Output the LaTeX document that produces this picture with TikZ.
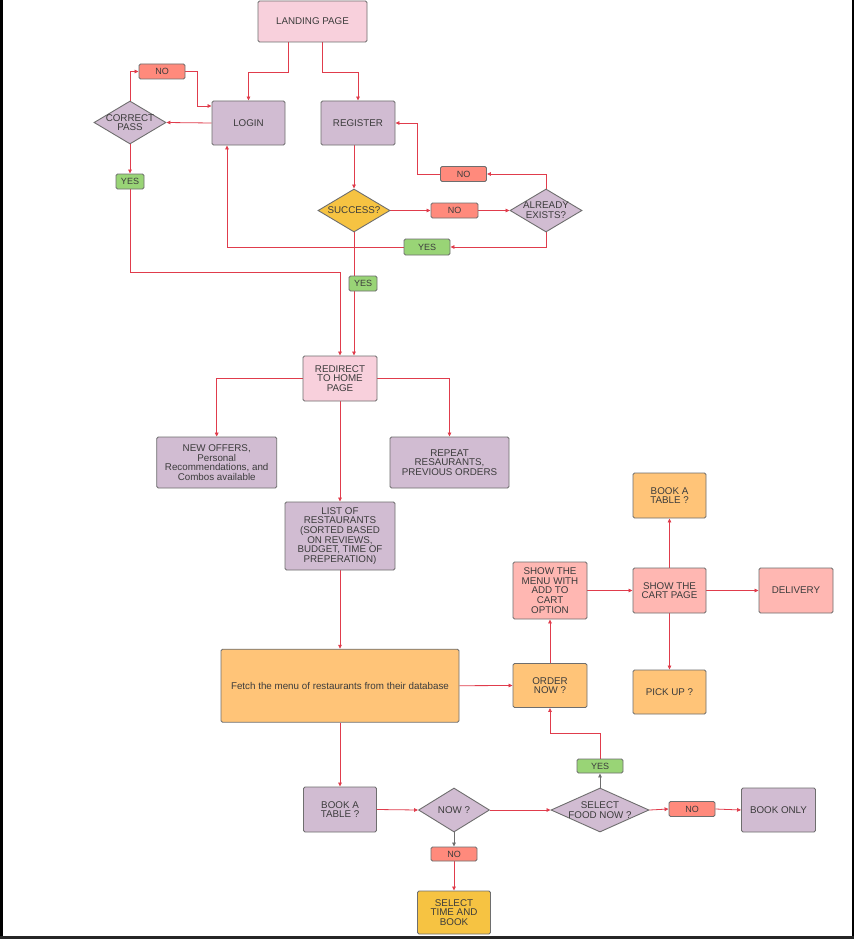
\documentclass[tikz,border=0pt]{standalone}
\usepackage{fontspec}
\setmainfont{Liberation Sans}
\usetikzlibrary{shapes.geometric,arrows.meta}
\pgfdeclarelayer{background}
\pgfsetlayers{background,main}
\definecolor{pinkl}{RGB}{248,208,220}
\definecolor{purp}{RGB}{209,188,210}
\definecolor{salm}{RGB}{255,138,124}
\definecolor{grn}{RGB}{153,212,118}
\definecolor{yell}{RGB}{246,195,66}
\definecolor{orng}{RGB}{255,196,120}
\definecolor{salml}{RGB}{255,183,178}
\definecolor{bord}{RGB}{110,110,110}
\definecolor{linered}{RGB}{224,60,76}
\definecolor{txt}{RGB}{60,60,60}
\begin{document}
\begin{tikzpicture}[x=1pt,y=-1pt,
  box/.style={draw=bord, line width=0.9pt, rounded corners=1.5pt, inner sep=0pt, align=center,
    font=\fontsize{9.8}{9.7}\selectfont, text=txt},
  tag/.style={box, font=\fontsize{9}{9}\selectfont},
  diam/.style={diamond, draw=bord, line width=0.9pt, inner sep=0pt},
  lbl/.style={inner sep=0pt, align=center, font=\fontsize{9.8}{9.7}\selectfont, text=txt},
  arr/.style={draw=linered, line width=0.8pt, -{Triangle[length=4pt,width=3.6pt]}},
  garr/.style={draw=bord, line width=0.8pt, -{Triangle[length=4pt,width=3.6pt]}}]
\useasboundingbox (0,0) rectangle (854,939);

% top part
\node[box, fill=pinkl, minimum width=109, minimum height=41] (landing) at (312.5,21.5) {LANDING PAGE};
\node[box, fill=purp, minimum width=73, minimum height=44] (login) at (248.5,123) {LOGIN};
\node[box, fill=purp, minimum width=74, minimum height=44] (register) at (358,123) {REGISTER};
\node[diam, fill=purp, minimum width=72, minimum height=43] (correct) at (130,122.5) {};
\node[lbl] (correct-t) at (correct) {CORRECT\\PASS};
\node[tag, fill=salm, minimum width=46, minimum height=15] (no1) at (162,71.5) {NO};
\node[tag, fill=grn, minimum width=28, minimum height=15] (yes1) at (130,181.5) {YES};
\node[diam, fill=yell, minimum width=72, minimum height=43] (success) at (354,210.5) {};
\node[lbl] (success-t) at (success) {SUCCESS?};
\node[tag, fill=salm, minimum width=47, minimum height=15] (no2) at (454.5,210.5) {NO};
\node[diam, fill=purp, minimum width=72, minimum height=43] (already) at (546,210.5) {};
\node[lbl] (already-t) at (already) {ALREADY\\EXISTS?};
\node[tag, fill=salm, minimum width=46, minimum height=15] (no3) at (463.5,174) {NO};
\node[tag, fill=grn, minimum width=46, minimum height=16] (yes2) at (427,247) {YES};
\node[tag, fill=grn, minimum width=28, minimum height=15] (yes3) at (363,283.5) {YES};

% middle
\node[box, fill=pinkl, minimum width=74, minimum height=45] (redirect) at (340,378.5) {REDIRECT\\TO HOME\\PAGE};
\node[box, fill=purp, minimum width=120, minimum height=51] (newoffers) at (216.7,462.5) {NEW OFFERS,\\Personal\\Recommendations, and\\Combos available};
\node[box, fill=purp, minimum width=119, minimum height=51] (repeat) at (449.5,462.5) {REPEAT\\RESAURANTS,\\PREVIOUS ORDERS};
\node[box, fill=purp, minimum width=110, minimum height=68] (list) at (340,536) {LIST OF\\RESTAURANTS\\(SORTED BASED\\ON REVIEWS,\\BUDGET, TIME OF\\PREPERATION)};
\node[box, fill=orng, minimum width=238, minimum height=73] (fetch) at (340,685.7) {Fetch the menu of restaurants from their database};
\node[box, fill=orng, minimum width=74, minimum height=44] (order) at (550,685.5) {ORDER\\NOW ?};
\node[box, fill=salml, minimum width=74, minimum height=57] (menu) at (550,590.5) {SHOW THE\\MENU WITH\\ADD TO\\CART\\OPTION};
\node[box, fill=salml, minimum width=73, minimum height=45] (cart) at (669.5,590.5) {SHOW THE\\CART PAGE};
\node[box, fill=orng, minimum width=73, minimum height=45] (booktop) at (669.5,495.5) {BOOK A\\TABLE ?};
\node[box, fill=salml, minimum width=74, minimum height=45] (delivery) at (796,590.5) {DELIVERY};
\node[box, fill=orng, minimum width=73, minimum height=44] (pickup) at (669.5,692) {PICK UP ?};

% bottom
\node[box, fill=purp, minimum width=73, minimum height=45] (booktable) at (340,809.5) {BOOK A\\TABLE ?};
\node[diam, fill=purp, minimum width=71, minimum height=44] (now) at (454,810) {};
\node[lbl] (now-t) at (now) {NOW ?};
\node[diam, fill=purp, minimum width=98, minimum height=44] (selfood) at (600,810) {};
\node[lbl] (selfood-t) at (selfood) {SELECT\\FOOD NOW ?};
\node[tag, fill=salm, minimum width=46, minimum height=15] (no4) at (692,809) {NO};
\node[box, fill=purp, minimum width=74, minimum height=44] (bookonly) at (778.5,810) {BOOK ONLY};
\node[tag, fill=grn, minimum width=46, minimum height=14] (yes4) at (600,766) {YES};
\node[tag, fill=salm, minimum width=46, minimum height=14] (no5) at (454,854) {NO};
\node[box, fill=yell, minimum width=73, minimum height=43] (seltime) at (454,912.5) {SELECT\\TIME AND\\BOOK};

\begin{pgfonlayer}{background}
\fill[white] (0,0) rectangle (854,939);
\fill[black] (0,0) rectangle (2.5,939);
\fill[black] (851.5,0) rectangle (854,939);
\fill[black!85] (0,936) rectangle (854,939);
\draw[arr] ([xshift=-24.2pt]landing.south) -- ++(0,29.5) -| (login.north);
\draw[arr] ([xshift=10.2pt]landing.south) -- ++(0,29.5) -| (register.north);
\draw[arr] (login.west) -- (correct.east);
\draw[arr] (correct.north) |- (no1.west);
\draw[arr] (no1.east) -- ++(12,0) |- ([yshift=17pt]login.west);
\draw[arr] (correct.south) -- (yes1.north);
\draw[arr] (yes1.south) -- ++(0,82.7) -| (redirect.north);
\draw[arr] (success.north |- register.south) -- (success.north);
\draw[arr] (success.east) -- (no2.west);
\draw[arr] (no2.east) -- (already.west);
\draw[arr] (already.north) |- (no3.east);
\draw[arr] (no3.west) -- ++(-23,0) |- (register.east);
\draw[arr] (already.south) |- (yes2.east);
\draw[arr] (yes2.west) -| ([xshift=-21.5pt]login.south);
\draw[arr] (success.south) -- ([xshift=14pt]redirect.north);
\draw[arr] (redirect.west) -| (newoffers.north);
\draw[arr] (redirect.east) -| (repeat.north);
\draw[arr] (redirect.south) -- (list.north);
\draw[arr] (list.south) -- (fetch.north);
\draw[arr] (fetch.east) -- (order.west);
\draw[arr] (fetch.south) -- (booktable.north);
\draw[arr] (order.north) -- (menu.south);
\draw[arr] (menu.east) -- (cart.west);
\draw[arr] (cart.east) -- (delivery.west);
\draw[arr] (cart.north) -- (booktop.south);
\draw[arr] (cart.south) -- (pickup.north);
\draw[arr] (booktable.east) -- (now.west);
\draw[arr] (now.east) -- (selfood.west);
\draw[garr] (selfood.north) -- (yes4.south);
\draw[arr] (yes4.north) -- ++(0,-25.3) -| (order.south);
\draw[arr] (selfood.east) -- (no4.west);
\draw[arr] (no4.east) -- (bookonly.west);
\draw[garr] (now.south) -- (no5.north);
\draw[arr] (no5.south) -- (seltime.north);
\end{pgfonlayer}
\end{tikzpicture}
\end{document}
